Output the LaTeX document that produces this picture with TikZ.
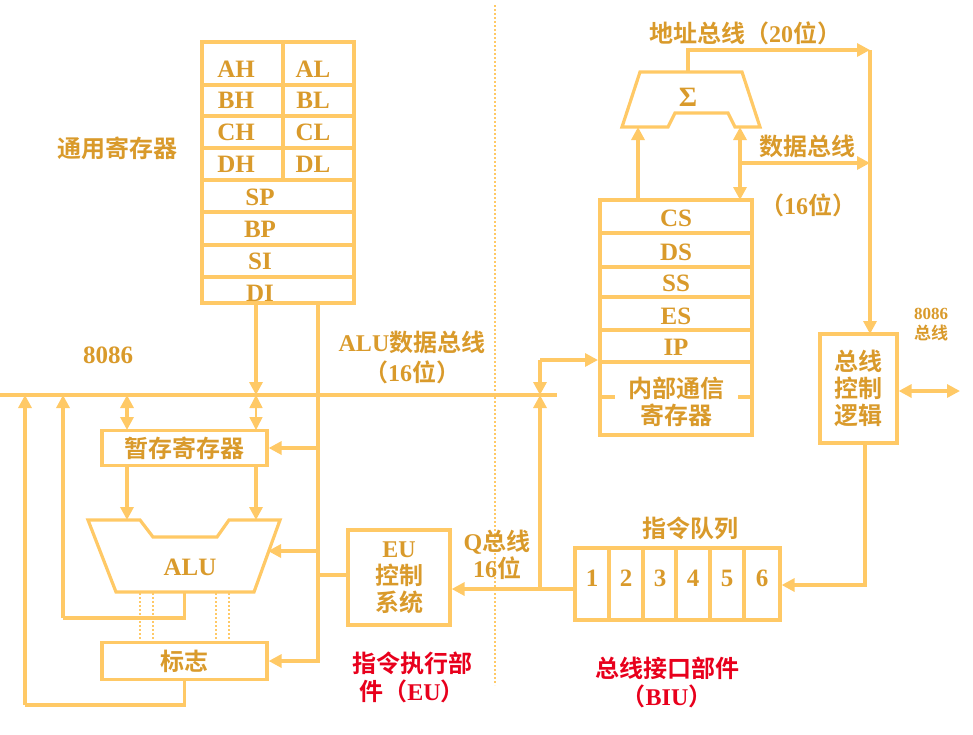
\documentclass[tikz,border=0pt]{standalone}
\usepackage{fontspec}
\setmainfont{Liberation Serif}
\newfontfamily\cjk{Noto Sans CJK SC}[BoldFont={* Bold}]
\usetikzlibrary{arrows.meta}
\definecolor{ln}{HTML}{FFC966}
\definecolor{tx}{HTML}{D99A2B}
\definecolor{rd}{HTML}{E8001C}
\begin{document}
\begin{tikzpicture}[x=1pt,y=-1pt,
 L/.style={draw=ln,line width=3.2pt},
 A/.style={L,-{Triangle[length=13pt,width=13pt]}},
 AA/.style={L,{Triangle[length=13pt,width=13pt]}-{Triangle[length=13pt,width=13pt]}},
 T/.style={text=tx,font=\bfseries\fontsize{24}{27}\selectfont\cjk,align=center,inner sep=0pt},
 E/.style={text=tx,font=\bfseries\fontsize{25}{27}\selectfont,inner sep=0pt},
 R/.style={text=rd,font=\bfseries\fontsize{24}{28}\selectfont\cjk,align=center,inner sep=0pt},
 box/.style={L,rectangle,inner sep=0pt}]
\useasboundingbox (0,0) rectangle (973,734);
% register file
\draw[L] (202,42) rectangle (354,303);
\foreach \y in {85,116,148,180,212,245,277} \draw[L] (202,\y)--(354,\y);
\draw[L] (283,42)--(283,180);
\node[E] at (236,69) {AH}; \node[E] at (313,69) {AL};
\node[E] at (236,100) {BH}; \node[E] at (313,100) {BL};
\node[E] at (236,132) {CH}; \node[E] at (313,132) {CL};
\node[E] at (236,164) {DH}; \node[E] at (313,164) {DL};
\node[E] at (260,197) {SP}; \node[E] at (260,229) {BP};
\node[E] at (260,261) {SI}; \node[E] at (260,293) {DI};
\coordinate (di1) at (256,303); \coordinate (di2) at (318,303);
\node[T] (gen) at (117,148) {通用寄存器};
\node[E] (n8086) at (108,355) {8086};
% bus
\coordinate (bl) at (0,395); \coordinate (br) at (557,395);
\draw[L] (bl)--(br);
\node[T] (alub) at (412,342) {\textrm{\bfseries ALU}数据总线};
\node[T] (alub2) at (412,372) {（\textrm{\bfseries 16}位）};
% temp reg
\node[box,minimum width=165pt,minimum height=35pt] (tmp) at (184.5,448) {};
\node[T] at (tmp) {暂存寄存器};
\draw[A] (di1)--(256,395);
\draw[AA,line width=1.5pt] (256,395)--(256,430);
\draw[AA] (127,395)--(127,430);
% ALU
\draw[L] (88,520)--(140,520)--(153,537)--(217,537)--(229,520)--(280,520)--(254,592)--(116,592)--cycle;
\node[E] (alu) at (190,567) {ALU};
\draw[A] (127,465)--(127,520);
\draw[A] (256,465)--(256,520);
\foreach \x in {140,153,216,229} \draw[ln,line width=2pt,dotted] (\x,593)--(\x,642);
% flags
\node[box,minimum width=165pt,minimum height=37pt] (flag) at (184.5,661) {};
\node[T] at (flag) {标志};
\draw[A] (di2)--(318,661)--(flag.east);
\draw[A] (318,448)--(tmp.east);
\draw[A] (318,551)--(268,551);
\draw[A] (63,618)--(63,395);
\draw[L] (63,618)--(184.5,618)--(184.5,592);
\draw[A] (25,705)--(25,395);
\draw[L] (25,705)--(184.5,705)--(flag.south);
% EU control
\node[box,minimum width=102pt,minimum height=95pt] (euc) at (399,577.5) {};
\node[T] at (euc) {\textrm{\bfseries EU}\\控制\\系统};
\draw[L] (euc.west |- 0,575)--(318,575);
% separator
\draw[ln,line width=2pt,dotted] (495,5)--(495,685);
\node[R] (eu) at (412,677) {指令执行部\\件（\textrm{\bfseries EU}）};
\node[R] (biu) at (667,682) {总线接口部件\\（\textrm{\bfseries BIU}）};
% queue
\node[box,minimum width=205pt,minimum height=72pt] (q) at (677.5,584) {};
\foreach \x in {609,643,676,710,744} \draw[L] (\x,548)--(\x,620);
\foreach \i/\x in {1/592,2/626,3/660,4/693,5/727,6/762} \node[E] at (\x,578) {\i};
\node[T] (ql) at (690,528) {指令队列};
\draw[A] (q.west |- 0,589)--(euc.east |- 0,589);
\node[T] (qb) at (497,555) {\textrm{\bfseries Q}总线\\\textrm{\bfseries 16}位};
\draw[A] (540,589)--(540,395);
\draw[A] (540,360)--(540,395);
% segment registers
\node[box,minimum width=152pt,minimum height=235pt] (seg) at (676,317.5) {};
\foreach \y in {233,267,297,330,362} \draw[L] (600,\y)--(752,\y);
\draw[L] (600,397)--(615,397); \draw[L] (738,397)--(752,397);
\node[E] at (676,218) {CS}; \node[E] at (676,252) {DS};
\node[E] at (676,283) {SS}; \node[E] at (676,316) {ES};
\node[E] at (676,347) {IP};
\node[T] at (676,402) {内部通信\\寄存器};
\draw[A] (540,360)--(598,360);
% sigma
\draw[L] (640,72)--(742,72)--(760,127)--(735,127)--(728,113)--(675,113)--(668,127)--(622,127)--cycle;
\node[E,font=\bfseries\fontsize{28}{30}\selectfont] (sig) at (688,97) {Σ};
\draw[A] (638,200)--(638,127);
\draw[AA] (740,127)--(740,200);
\draw[A] (740,163)--(870,163);
\node[T] at (807,146) {数据总线};
\node[T] at (808,205) {（\textrm{\bfseries 16}位）};
\draw[A] (688,72)--(688,50)--(870,50);
\node[T] at (745,33) {地址总线（\textrm{\bfseries 20}位）};
% bus control
\node[box,minimum width=77pt,minimum height=109pt] (bc) at (858.5,388.5) {};
\node[T] at (bc) {总线\\控制\\逻辑};
\draw[A] (870,50)--(870,334);
\draw[AA] (bc.east |- 0,391)--(960,391);
\node[T,font=\bfseries\fontsize{17}{20}\selectfont\cjk] at (931,325) {\textrm{\bfseries 8086}\\总线};
\draw[A] (865,443)--(865,585)--(q.east |- 0,585);
\end{tikzpicture}
\end{document}
